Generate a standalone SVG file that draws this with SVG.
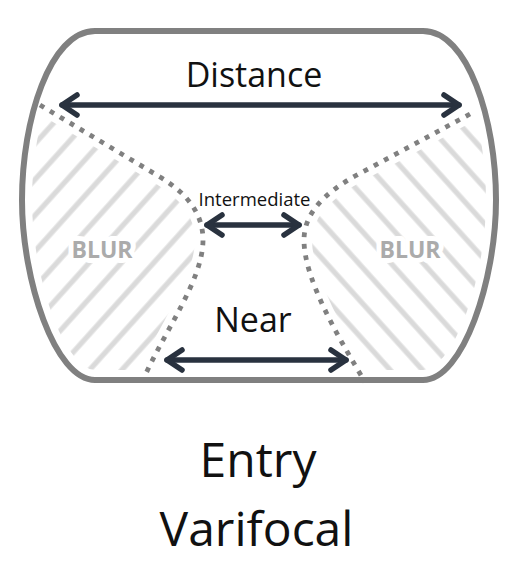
<svg xmlns="http://www.w3.org/2000/svg" width="516" height="583" viewBox="0 0 516 583">
<style>
.lbl{font-family:"Open Sans","Liberation Sans",sans-serif;fill:#111;text-anchor:middle}
.blur{font-family:"Open Sans","Liberation Sans",sans-serif;font-weight:700;font-size:23px;fill:#ababab;text-anchor:middle;stroke:#fff;stroke-width:10px;paint-order:stroke;stroke-linejoin:round}
.dot{fill:none;stroke:#808080;stroke-width:4.8;stroke-dasharray:4.8 6.8}
.mask{fill:none;stroke:#fff}
.arr{fill:none;stroke:#29323f;stroke-width:5.5;stroke-linecap:round;marker-start:url(#head);marker-end:url(#head)}
</style>
<defs>
<marker id="head" markerUnits="userSpaceOnUse" markerWidth="40" markerHeight="40" viewBox="-20 -20 40 40" refX="0" refY="0" orient="auto-start-reverse" overflow="visible">
<path d="M-15,-10 L0,0 L-15,10" fill="none" stroke="#29323f" stroke-width="5.5" stroke-linecap="round" stroke-linejoin="round"/>
</marker>
<pattern id="hatchL" patternUnits="userSpaceOnUse" width="24" height="20" patternTransform="translate(120,372) rotate(42)">
<rect x="0" y="0" width="2.6" height="20" fill="#dadada"/><rect x="21.4" y="0" width="2.6" height="20" fill="#dadada"/>
</pattern>
<pattern id="hatchR" patternUnits="userSpaceOnUse" width="24" height="20" patternTransform="translate(392,372) rotate(-42)">
<rect x="0" y="0" width="2.6" height="20" fill="#dadada"/><rect x="21.4" y="0" width="2.6" height="20" fill="#dadada"/>
</pattern>
<path id="outerShape" d="M95,31 L423,31 C468,31 496,120 496,200 C496,280 463,380 423,380 L95,380 C55,380 22,280 22,200 C22,120 50,31 95,31 Z"/>
<path id="dotL" d="M40,105 L160,177 C185,192 203,212 203,240 C203,280 165,330 143,380"/>
<path id="dotR" d="M470,114 L355,176 C325,193 304,213 304,240 C304,280 340,340 365,382"/>
<clipPath id="clipOuter"><use href="#outerShape"/></clipPath>
<clipPath id="clipL"><path d="M40,105 L160,177 C185,192 203,212 203,240 C203,280 165,330 143,380 L0,400 L0,90 Z"/></clipPath>
<clipPath id="clipR"><path d="M470,114 L355,176 C325,193 304,213 304,240 C304,280 340,340 365,382 L516,400 L516,90 Z"/></clipPath>
</defs>
<g id="blur-zones">
<g clip-path="url(#clipOuter)">
<rect x="0" y="0" width="516" height="583" fill="url(#hatchL)" clip-path="url(#clipL)"/>
<rect x="0" y="0" width="516" height="583" fill="url(#hatchR)" clip-path="url(#clipR)"/>
</g>
<use href="#outerShape" class="mask" stroke-width="20"/>
<use href="#dotL" class="mask" stroke-width="16"/>
<use href="#dotR" class="mask" stroke-width="16"/>
<text class="blur" x="102" y="258">BLUR</text>
<text class="blur" x="410" y="258">BLUR</text>
</g>
<g id="lens">
<use href="#outerShape" fill="none" stroke="#808080" stroke-width="6"/>
</g>
<g id="boundaries">
<use href="#dotL" class="dot"/>
<use href="#dotR" class="dot"/>
</g>
<g id="connectors">
<path class="arr" d="M62,105 L459,105"/>
<path class="arr" d="M207,225 L299,225"/>
<path class="arr" d="M167,360 L346,360"/>
</g>
<g id="labels">
<text class="lbl" x="254" y="87" font-size="34">Distance</text>
<text class="lbl" x="254.5" y="206" font-size="18.5">Intermediate</text>
<text class="lbl" x="253" y="332" font-size="34">Near</text>
<text class="lbl" x="258" y="477" font-size="48">Entry</text>
<text class="lbl" x="256.5" y="546" font-size="48">Varifocal</text>
</g>
</svg>
